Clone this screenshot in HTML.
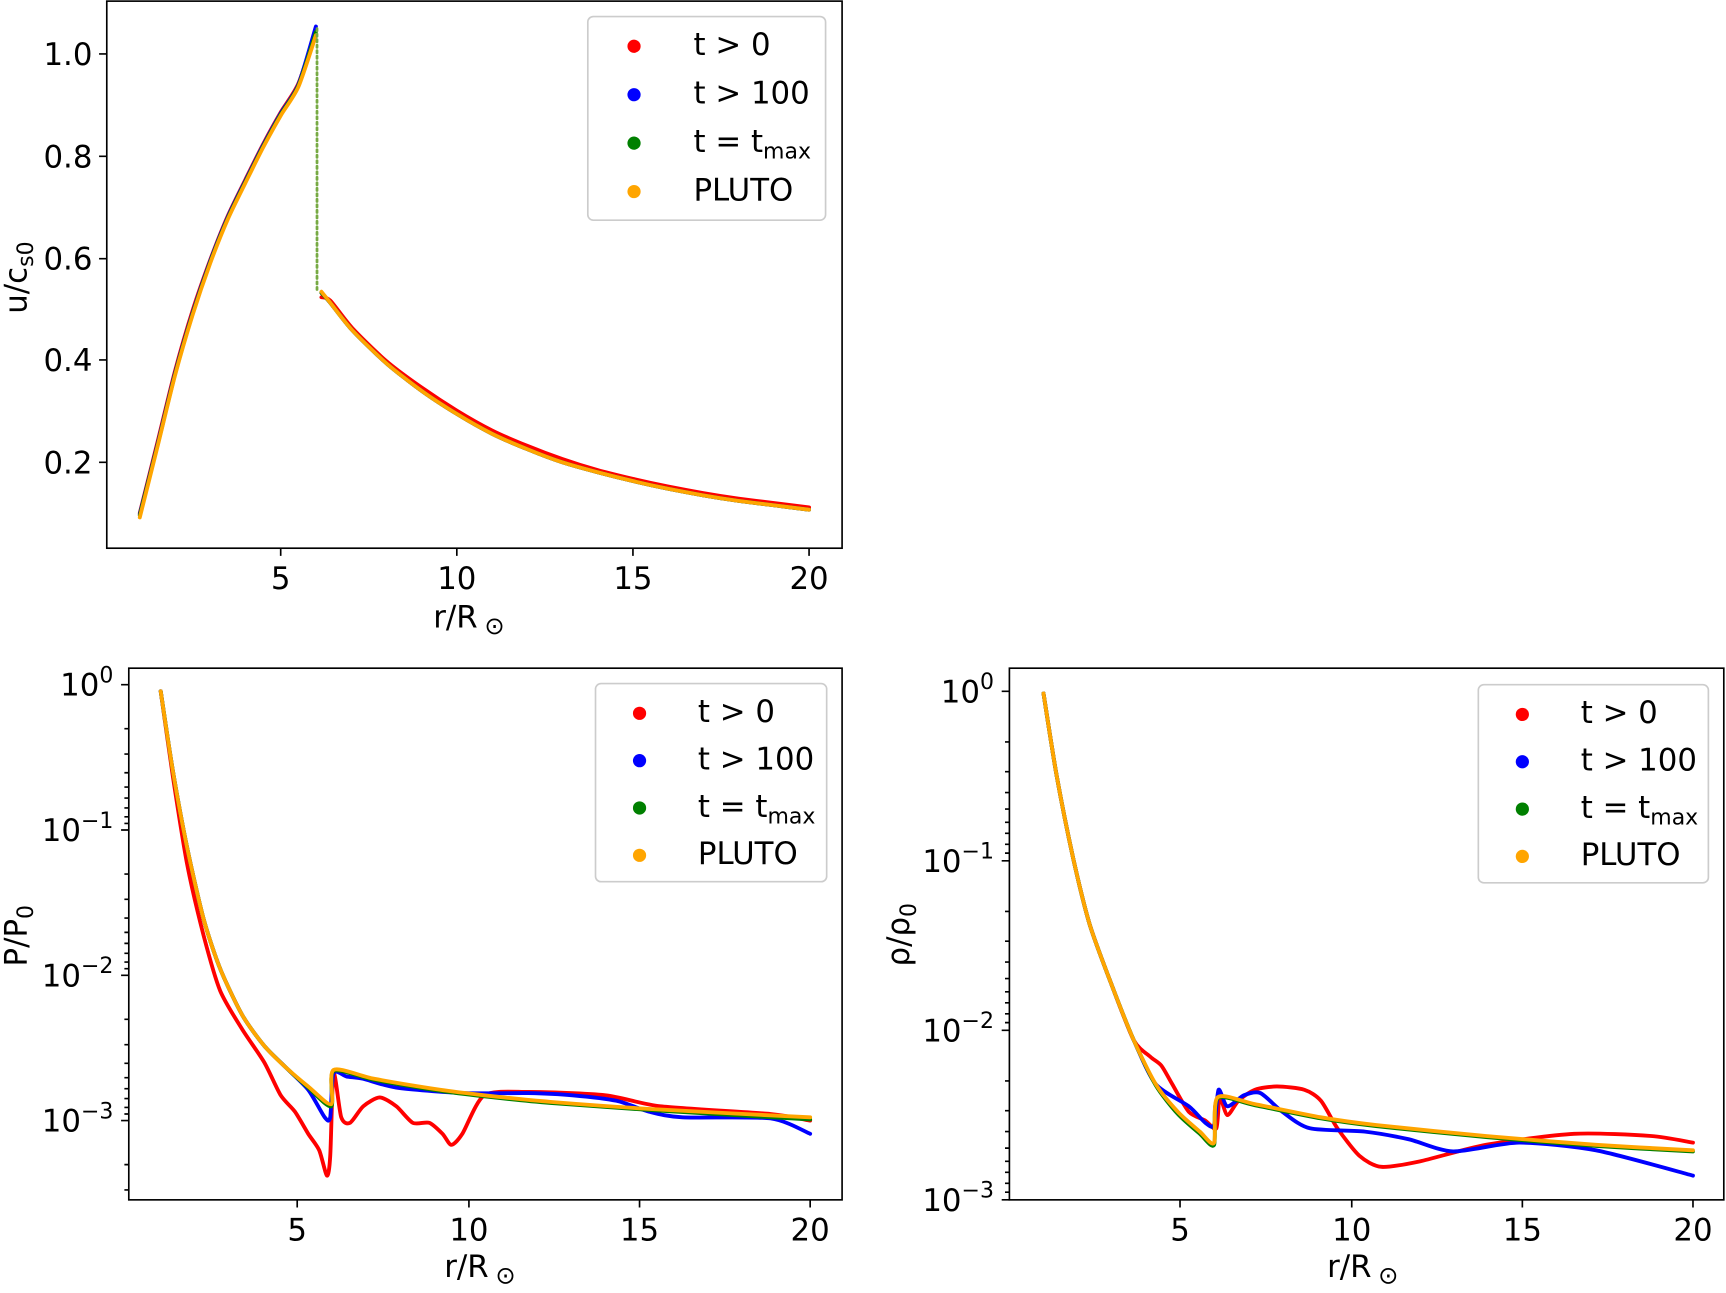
<!DOCTYPE html>
<html><head><meta charset="utf-8"><style>html,body{margin:0;padding:0;background:#fff}svg{display:block}</style></head><body>
<svg id="s" width="1726" height="1293" viewBox="0 0 1568 1174.6" xmlns="http://www.w3.org/2000/svg" font-family="'DejaVu Sans','Liberation Sans',sans-serif" fill="none">
<rect width="1568" height="1175" fill="#fff"/>
<g stroke-width="3.5" stroke-linejoin="round" stroke-linecap="round">
<polyline class="sm" stroke="red" points="127,466 143,402 159,337 175,282 191,236 207,196 223,163 239,131 255,102 271,76 287,28"/>
<polyline class="sm" stroke="red" points="292,270 300,273 320,298 351,328 383,352 415,373 447,391 479,405 511,417 543,427 575,435 607,442 639,448 671,453 703,457 735,461"/>
<polyline class="sm" stroke="blue" points="127,467 143,404 159,339 175,284 191,237 207,197 223,164 239,132 255,103 271,77 287,24"/>
<polyline class="sm" stroke="blue" points="292,266 300,275 320,300 351,330 383,355 415,376 447,394 479,408 511,420 543,429 575,437 607,444 639,450 671,455 703,459 735,463"/>
<polyline class="sm" stroke="green" points="127,468 143,405 159,340 175,285 191,238 207,198 223,165 239,133 255,104 271,78 287,29"/>
<polyline class="sm" stroke="green" points="292,266 300,275 320,300 351,330 383,355 415,376 447,394 479,408 511,420 543,429 575,437 607,444 639,450 671,455 703,459 735,463"/>
<polyline class="sm" stroke="orange" points="127,470 143,406 159,341 175,286 191,239 207,199 223,166 239,134 255,105 271,79 287,32"/>
<polyline class="sm" stroke="orange" points="292,265 300,275 320,300 351,330 383,355 415,376 447,394 479,408 511,420 543,429 575,437 607,444 639,450 671,455 703,459 735,463"/>
<line x1="288" y1="26" x2="288" y2="266" stroke="#7a4" stroke-width="2.5" stroke-dasharray="2 3"/>
<polyline class="sm" stroke="red" points="146,628 157,705 170,785 185,850 200,900 220,935 240,965 255,995 268,1010 280,1030 290,1045 297,1068 300,1050 303,975 310,1015 318,1020 330,1005 345,997 360,1005 375,1020 390,1020 402,1030 410,1040 420,1030 440,995 480,992 550,995 600,1005 700,1012 736,1018"/>
<polyline class="sm" stroke="blue" points="146,628 157,700 170,770 185,835 200,880 220,922 240,950 260,970 280,990 295,1015 300,1015 303,975 315,978 330,980 360,988 420,993 480,993 520,995 560,1000 590,1010 620,1015 700,1016 736,1030"/>
<polyline class="sm" stroke="green" points="146,628 157,700 170,770 185,835 200,880 220,922 240,950 260,970 280,988 301,1005 303,973 340,981 400,991 440,996 500,1002 600,1009 736,1017"/>
<polyline class="sm" stroke="orange" points="146,628 157,700 170,770 185,835 200,880 220,922 240,950 260,970 280,987 301,1003 303,972 340,980 400,990 440,995 500,1001 600,1008 736,1015"/>
<polyline class="sm" stroke="red" points="948,630 960,705 975,780 990,840 1010,895 1030,945 1045,960 1055,968 1065,985 1080,1010 1095,1018 1105,1025 1108,997 1115,1013 1125,1000 1140,990 1160,987 1185,990 1200,1000 1215,1025 1235,1050 1255,1060 1290,1055 1350,1040 1430,1030 1500,1032 1538,1038"/>
<polyline class="sm" stroke="blue" points="948,630 960,705 975,780 990,840 1010,895 1030,945 1050,985 1080,1005 1095,1020 1103,1022 1107,990 1115,1005 1130,995 1145,993 1165,1010 1190,1025 1240,1028 1280,1035 1320,1046 1380,1038 1450,1045 1538,1068"/>
<polyline class="sm" stroke="green" points="948,630 960,705 975,780 990,840 1010,895 1030,945 1050,986 1070,1012 1090,1030 1103,1040 1106,998 1140,1004 1200,1016 1250,1023 1350,1033 1450,1041 1538,1046"/>
<polyline class="sm" stroke="orange" points="948,630 960,705 975,780 990,840 1010,895 1030,945 1050,985 1070,1010 1090,1028 1103,1038 1106,997 1140,1003 1200,1015 1250,1022 1350,1032 1450,1040 1538,1045"/>
</g>
<g stroke="#000" stroke-width="1.5">
<rect x="97" y="1" width="668" height="497"/>
<rect x="117" y="607" width="648" height="483"/>
<rect x="917" y="607" width="649" height="483"/>
<path d="M255,498v7M415,498v7M575,498v7M735,498v7M97,49h-7M97,142h-7M97,235h-7M97,327h-7M97,420h-7"/>
<path d="M270,1090v7M426,1090v7M581,1090v7M736,1090v7M117,622h-7M117,754h-7M117,886h-7M117,1018h-7"/>
<path d="M1072,1090v7M1228,1090v7M1383,1090v7M1538,1090v7M917,628h-7M917,782h-7M917,936h-7M917,1090h-7"/>
<path d="M117,662h-4M117,685h-4M117,702h-4M117,715h-4M117,725h-4M117,734h-4M117,742h-4M117,748h-4M117,794h-4M117,817h-4M117,834h-4M117,847h-4M117,857h-4M117,866h-4M117,874h-4M117,880h-4M117,926h-4M117,949h-4M117,966h-4M117,979h-4M117,989h-4M117,998h-4M117,1006h-4M117,1012h-4M117,1058h-4M117,1081h-4"/>
<path d="M917,674h-4M917,701h-4M917,720h-4M917,735h-4M917,747h-4M917,757h-4M917,767h-4M917,775h-4M917,828h-4M917,855h-4M917,874h-4M917,889h-4M917,901h-4M917,911h-4M917,921h-4M917,929h-4M917,982h-4M917,1009h-4M917,1028h-4M917,1043h-4M917,1055h-4M917,1065h-4M917,1075h-4M917,1083h-4"/>
</g>
<g fill="#000" font-size="28">
<g text-anchor="middle">
<text x="255" y="535">5</text><text x="415" y="535">10</text><text x="575" y="535">15</text><text x="735" y="535">20</text>
<text x="270" y="1127">5</text><text x="426" y="1127">10</text><text x="581" y="1127">15</text><text x="736" y="1127">20</text>
<text x="1072" y="1127">5</text><text x="1228" y="1127">10</text><text x="1383" y="1127">15</text><text x="1538" y="1127">20</text>
<text x="426" y="570">r/R<tspan font-size="22" dx="6" dy="6">⊙</tspan></text>
<text x="436" y="1160">r/R<tspan font-size="22" dx="6" dy="6">⊙</tspan></text>
<text x="1238" y="1160">r/R<tspan font-size="22" dx="6" dy="6">⊙</tspan></text>
</g>
<g text-anchor="end">
<text x="84" y="59">1.0</text><text x="84" y="152">0.8</text><text x="84" y="245">0.6</text><text x="84" y="337">0.4</text><text x="84" y="430">0.2</text>
<text x="103" y="632">10<tspan font-size="20" dy="-12">0</tspan></text>
<text x="103" y="764">10<tspan font-size="20" dy="-12">−1</tspan></text>
<text x="103" y="896">10<tspan font-size="20" dy="-12">−2</tspan></text>
<text x="103" y="1028">10<tspan font-size="20" dy="-12">−3</tspan></text>
<text x="903" y="638">10<tspan font-size="20" dy="-12">0</tspan></text>
<text x="903" y="792">10<tspan font-size="20" dy="-12">−1</tspan></text>
<text x="903" y="946">10<tspan font-size="20" dy="-12">−2</tspan></text>
<text x="903" y="1100">10<tspan font-size="20" dy="-12">−3</tspan></text>
</g>
<text transform="translate(24,285) rotate(-90)">u/c<tspan font-size="20" dy="6">s0</tspan></text>
<text transform="translate(24,878) rotate(-90)">P/P<tspan font-size="20" dy="6">0</tspan></text>
<text transform="translate(826,878) rotate(-90)">ρ/ρ<tspan font-size="20" dy="6">0</tspan></text>
</g>
<g font-size="28" fill="#000">
<rect x="534" y="15" width="216" height="185" rx="5" fill="#fff" stroke="#ccc" stroke-width="1.5"/>
<circle cx="576" cy="42" r="6" fill="red"/><circle cx="576" cy="86" r="6" fill="blue"/><circle cx="576" cy="130" r="6" fill="green"/><circle cx="576" cy="174" r="6" fill="orange"/>
<text x="630" y="50">t &gt; 0</text><text x="630" y="94">t &gt; 100</text><text x="630" y="138">t = t<tspan font-size="20" dy="6">max</tspan></text><text x="630" y="182">PLUTO</text>
<rect x="541" y="621" width="210" height="180" rx="5" fill="#fff" stroke="#ccc" stroke-width="1.5"/>
<circle cx="581" cy="648" r="6" fill="red"/><circle cx="581" cy="691" r="6" fill="blue"/><circle cx="581" cy="734" r="6" fill="green"/><circle cx="581" cy="777" r="6" fill="orange"/>
<text x="634" y="656">t &gt; 0</text><text x="634" y="699">t &gt; 100</text><text x="634" y="742">t = t<tspan font-size="20" dy="6">max</tspan></text><text x="634" y="785">PLUTO</text>
<rect x="1343" y="622" width="209" height="180" rx="5" fill="#fff" stroke="#ccc" stroke-width="1.5"/>
<circle cx="1383" cy="649" r="6" fill="red"/><circle cx="1383" cy="692" r="6" fill="blue"/><circle cx="1383" cy="735" r="6" fill="green"/><circle cx="1383" cy="778" r="6" fill="orange"/>
<text x="1436" y="657">t &gt; 0</text><text x="1436" y="700">t &gt; 100</text><text x="1436" y="743">t = t<tspan font-size="20" dy="6">max</tspan></text><text x="1436" y="786">PLUTO</text>
</g>
</svg>
<script>
document.querySelectorAll('polyline.sm').forEach(function(pl){
  var p=pl.getAttribute('points').trim().split(/\s+/).map(function(s){var a=s.split(',');return [+a[0],+a[1]];});
  var d='M'+p[0][0]+','+p[0][1];
  for(var i=0;i<p.length-1;i++){
    var p0=p[Math.max(i-1,0)],p1=p[i],p2=p[i+1],p3=p[Math.min(i+2,p.length-1)];
    var k=1/8;
    var c1=[p1[0]+(p2[0]-p0[0])*k,p1[1]+(p2[1]-p0[1])*k];
    var c2=[p2[0]-(p3[0]-p1[0])*k,p2[1]-(p3[1]-p1[1])*k];
    d+='C'+c1[0].toFixed(1)+','+c1[1].toFixed(1)+' '+c2[0].toFixed(1)+','+c2[1].toFixed(1)+' '+p2[0]+','+p2[1];
  }
  var path=document.createElementNS('http://www.w3.org/2000/svg','path');
  path.setAttribute('d',d);path.setAttribute('stroke',pl.getAttribute('stroke'));
  pl.parentNode.replaceChild(path,pl);
});
</script>
</body></html>
